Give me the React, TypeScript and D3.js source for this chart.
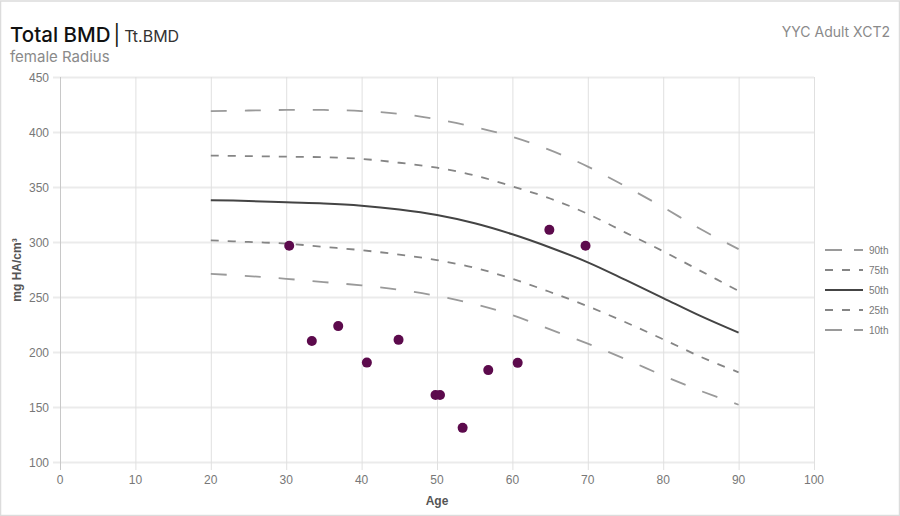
import React from "react";
import * as d3 from "d3";

const curveAges = [20, 25, 30, 35, 40, 45, 50, 55, 60, 65, 70, 75, 80, 85, 90];
const p90 = [419.5, 420, 420.5, 420.5, 419.5, 417, 412, 405, 396, 384, 369, 351, 332, 312, 294];
const p75 = [379, 378.5, 378, 377.5, 376, 372.5, 368, 361, 351, 340, 326, 309, 292, 274, 256];
const p50 = [338.5, 337.8, 336.5, 335.5, 333.5, 330, 325, 317.5, 307.5, 295.5, 282, 266, 249.5, 233, 218];
const p25 = [302, 300.5, 299, 296, 293, 289, 284, 277, 267, 255, 242, 227.5, 212, 196, 182];
const p10 = [271.5, 269.5, 267, 264, 261, 257, 251.5, 244, 234, 221, 208, 194, 179, 165, 152.5];

const pointAges = [30.4, 33.4, 36.9, 40.7, 44.9, 49.8, 50.4, 53.4, 56.8, 60.7, 64.9, 69.7];
const pointValues = [297, 210.5, 224, 190.8, 211.5, 161.3, 161.3, 131.5, 184, 190.6, 311.5, 297];

const xTicks = [0, 10, 20, 30, 40, 50, 60, 70, 80, 90, 100];
const yTicks = [100, 150, 200, 250, 300, 350, 400, 450];

const seriesNames = ["90th", "75th", "50th", "25th", "10th"];
const seriesValues = [p90, p75, p50, p25, p10];
const seriesStyle = [
  { stroke: "#9a9a9a", dash: "16,18", width: 1.8 },
  { stroke: "#858585", dash: "8,9", width: 1.8 },
  { stroke: "#444444", dash: "", width: 2 },
  { stroke: "#858585", dash: "8,9", width: 1.8 },
  { stroke: "#9a9a9a", dash: "16,18", width: 1.8 },
];

export default function App() {
  const W = 900;
  const H = 516;
  const x = d3.scaleLinear().domain([0, 100]).range([60, 814]);
  const y = d3.scaleLinear().domain([100, 450]).range([462.5, 77.5]);
  const line = d3
    .line<number>()
    .x((_, i) => x(curveAges[i]))
    .y((d) => y(d))
    .curve(d3.curveCatmullRom.alpha(0.5));
  const axisFont = "Liberation Sans, Arial, sans-serif";
  const titleFont = "Inter, 'Open Sans', sans-serif";

  return (
    <svg
      width={W}
      height={H}
      style={{ position: "absolute", left: 0, top: 0, background: "#fff" }}
    >
      <rect x={0.5} y={1} width={W - 1} height={H - 1.5} fill="#fff" stroke="#dcdcdc" strokeWidth={1.5} />
      {yTicks.map((t) => (
        <line key={"h" + t} x1={53} x2={814} y1={y(t)} y2={y(t)} stroke="#ebebeb" strokeWidth={2} />
      ))}
      {xTicks.map((t) => (
        <line
          key={"v" + t}
          x1={x(t) + 0.5}
          x2={x(t) + 0.5}
          y1={77}
          y2={470}
          stroke={t === 0 ? "#c8c8c8" : "#e0e0e0"}
          strokeWidth={1}
        />
      ))}
      {yTicks.map((t) => (
        <text key={"yl" + t} x={49} y={y(t) + 4} textAnchor="end" fontFamily={axisFont} fontSize={12} fill="#777">
          {t}
        </text>
      ))}
      {xTicks.map((t) => (
        <text key={"xl" + t} x={x(t)} y={484} textAnchor="middle" fontFamily={axisFont} fontSize={12} fill="#777">
          {t}
        </text>
      ))}
      <text x={437} y={505} textAnchor="middle" fontFamily={axisFont} fontSize={12} fontWeight="bold" fill="#555">
        Age
      </text>
      <text
        transform={`translate(21,${y(275)}) rotate(-90)`}
        textAnchor="middle"
        fontFamily={axisFont}
        fontSize={12}
        fontWeight="bold"
        fill="#555"
      >
        mg HA/cm³
      </text>
      {seriesValues.map((vals, i) => (
        <path
          key={"c" + i}
          d={line(vals) || ""}
          fill="none"
          stroke={seriesStyle[i].stroke}
          strokeWidth={seriesStyle[i].width}
          strokeDasharray={seriesStyle[i].dash}
        />
      ))}
      {pointAges.map((a, i) => (
        <circle key={"p" + i} cx={x(a)} cy={y(pointValues[i])} r={5} fill="#5c0a4c" />
      ))}
      {seriesNames.map((n, i) => (
        <g key={"lg" + n} transform={`translate(825,${250 + i * 20})`}>
          <line
            x1={0}
            x2={38}
            y1={0}
            y2={0}
            stroke={seriesStyle[i].stroke}
            strokeWidth={seriesStyle[i].width}
            strokeDasharray={i === 0 || i === 4 ? "17,12" : seriesStyle[i].dash}
          />
          <text x={44} y={3.5} fontFamily={axisFont} fontSize={10} fill="#777">
            {n}
          </text>
        </g>
      ))}
      <text x={10} y={42} fontFamily={titleFont} fontSize={20.5} fontWeight={500} fill="#111">
        Total BMD
        <tspan fontSize={20} dx={3} fontWeight={400}>|</tspan>
        <tspan fontSize={16} dx={4} fontWeight={400} fill="#333">Tt.BMD</tspan>
      </text>
      <text x={10} y={62} fontFamily={titleFont} fontSize={15} fill="#8a8a8a">
        female Radius
      </text>
      <text x={890} y={37} textAnchor="end" fontFamily={titleFont} fontSize={14} fill="#8a8a8a">
        YYC Adult XCT2
      </text>
    </svg>
  );
}
